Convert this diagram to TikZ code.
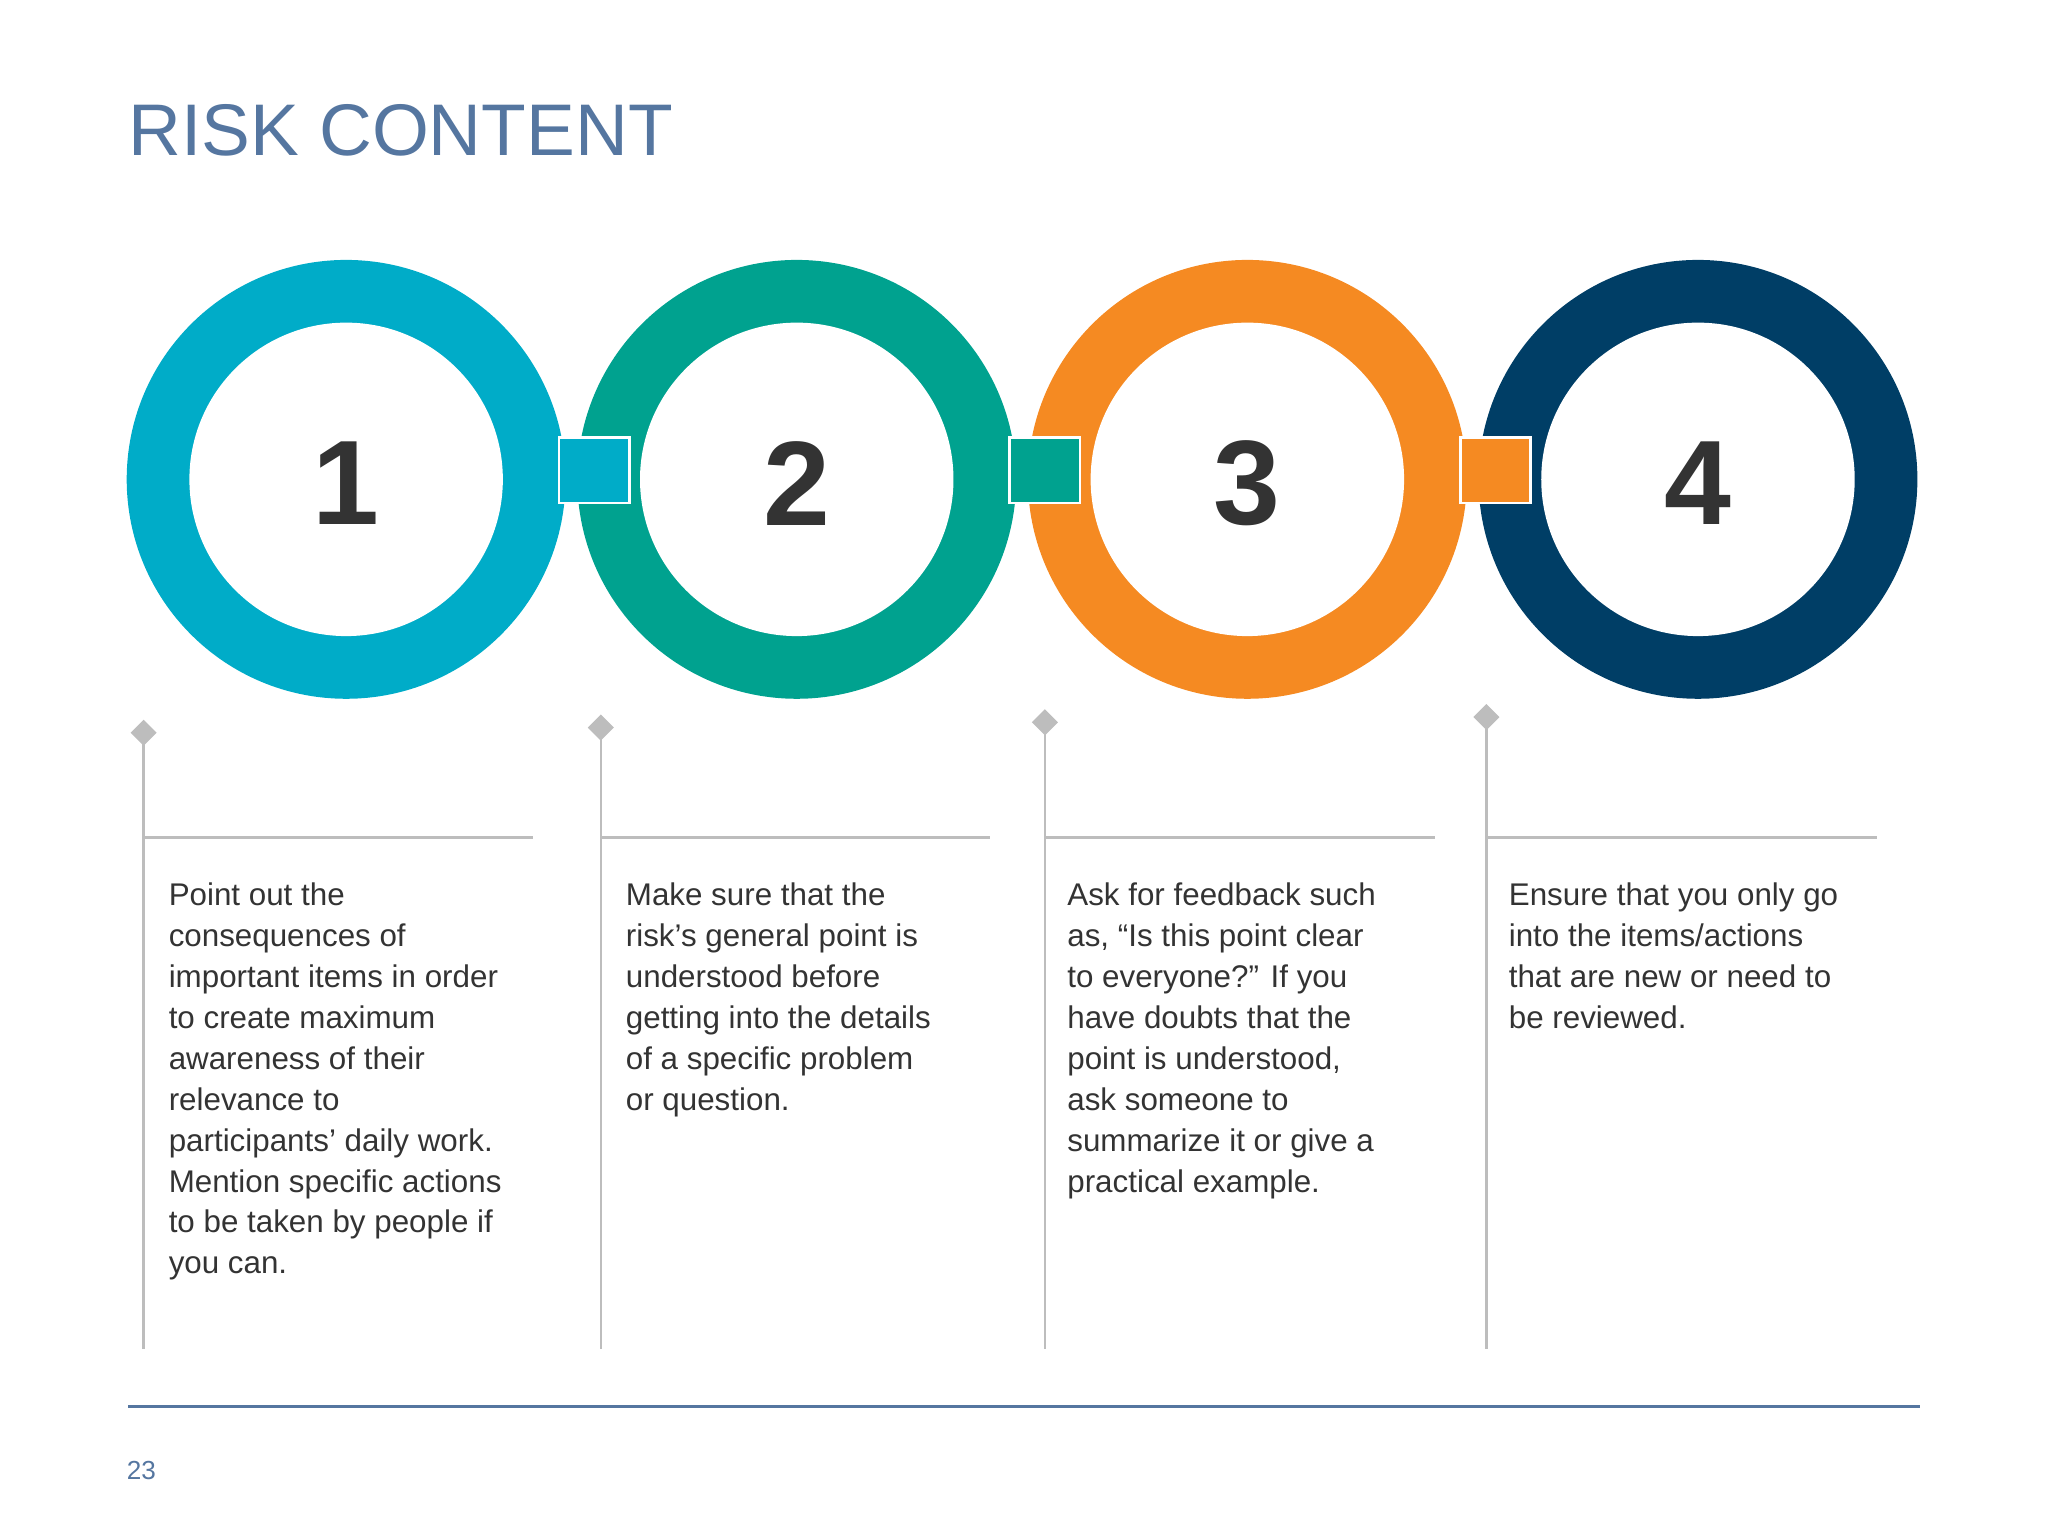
\documentclass[tikz,border=0pt]{standalone}
\usepackage{fontspec}
\setmainfont{Liberation Sans}
\definecolor{cA}{HTML}{00ACC8}
\definecolor{cB}{HTML}{00A28F}
\definecolor{cC}{HTML}{F58A22}
\definecolor{cD}{HTML}{003E66}
\definecolor{ttl}{HTML}{5576A0}
\definecolor{gry}{HTML}{BDBDBD}
\definecolor{txt}{HTML}{333333}
\tikzset{
 num/.style={font=\fontsize{92}{92}\selectfont\bfseries, text=txt},
 body/.style={font=\fontsize{24}{31.3}\selectfont, text=txt, anchor=north west, align=left, inner sep=0},
 gline/.style={gry, line width=2pt},
 dia/.style={fill=gry, diamond, minimum size=0, inner sep=0}
}
\begin{document}
\begin{tikzpicture}[x=1pt,y=-1pt]
\useasboundingbox (0,0) rectangle (1568,1176);
\node[anchor=west, text=ttl, font=\fontsize{56}{56}\selectfont, inner sep=0] (title) at (98,100) {RISK CONTENT};
% rings
\fill[cA] (265,367) circle (168);
\fill[cB] (610,367) circle (168);
\fill[cA, draw=white, line width=2pt] (428,335) rectangle (482,385);
\fill[cC] (955,367) circle (168);
\fill[cB, draw=white, line width=2pt] (773,335) rectangle (827,385);
\fill[cD] (1300,367) circle (168);
\fill[cC, draw=white, line width=2pt] (1118,335) rectangle (1172,385);
\foreach \x/\n in {265/1,610/2,955/3,1300/4}{
 \fill[white] (\x,367) circle (120);
 \node[num] (n\n) at (\x,370) {\n};
}
% columns
\foreach \x/\y/\e/\k in {110/561/408/a,460/557/758/b,800/553/1099/c,1138/549/1437/d}{
 \coordinate (top\k) at (\x,\y);
 \coordinate (bot\k) at (\x,1033);
 \coordinate (hl\k) at (\x,641);
 \coordinate (hr\k) at (\e,641);
 \draw[gline] (top\k) -- (bot\k);
 \draw[gline] (hl\k) -- (hr\k);
 \fill[gry] (\x,\y-10) -- (\x+10,\y) -- (\x,\y+10) -- (\x-10,\y) -- cycle;
}
\node[body] (t1) at (129,676) {Point out the\\consequences of\\important items in order\\to create maximum\\awareness of their\\relevance to\\participants’ daily work.\\Mention specific actions\\to be taken by people if\\you can.};
\node[body] (t2) at (479,676) {Make sure that the\\risk’s general point is\\understood before\\getting into the details\\of a specific problem\\or question.};
\node[body] (t3) at (817,676) {Ask for feedback such\\as, “Is this point clear\\to everyone?” If you\\have doubts that the\\point is understood,\\ask someone to\\summarize it or give a\\practical example.};
\node[body] (t4) at (1155,676) {Ensure that you only go\\into the items/actions\\that are new or need to\\be reviewed.};
\coordinate (bl) at (98,1077); \coordinate (br) at (1470,1077);
\draw[ttl, line width=2pt] (bl) -- (br);
\node[anchor=west, text=ttl, font=\fontsize{20}{20}\selectfont, inner sep=0] (pg) at (97,1126) {23};
\end{tikzpicture}
\end{document}
